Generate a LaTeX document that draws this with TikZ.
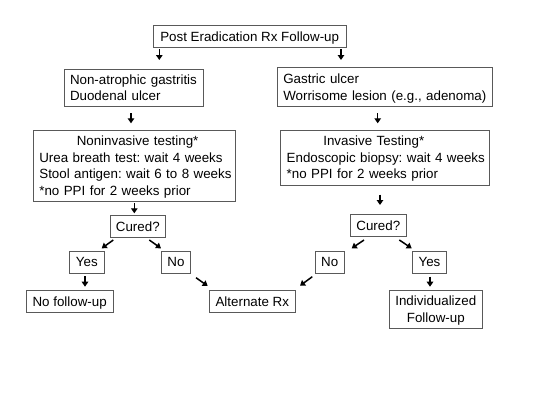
\documentclass[tikz,border=0pt]{standalone}
\usepackage{fontspec}
\setmainfont{Liberation Sans}
\usetikzlibrary{arrows.meta}
\newcommand\myTopStrut{\rule{0pt}{12.5pt}}
\newcommand\myBotStrut{\rule[-2.8pt]{0pt}{2.8pt}}
\begin{document}
\frenchspacing
\begin{tikzpicture}[x=1pt,y=-1pt,
  every node/.style={font=\fontsize{13.35}{16.45}\selectfont},
  bx/.style={draw=black!65,line width=0.8pt,rectangle,inner sep=0pt,align=center,text depth=0pt},
  lbx/.style={draw=black!65,line width=0.8pt,rectangle,inner ysep=0pt,inner xsep=#1,align=left},
  arr/.style={-{Triangle[length=5pt,width=6.5pt]},line width=1.5pt,black}]
\useasboundingbox (0,0) rectangle (540,405);
\fill[white] (0,0) rectangle (540,405);
\node[bx,minimum width=192.7,minimum height=22.3] (top) at (249.7,36.2) {Post Eradication Rx Follow-up};
\node[lbx=5.7pt,text width=127.6pt,minimum height=37.7] (nd) at (133.8,87.8) {\mbox{\myTopStrut Non-atrophic gastritis}\\\mbox{Duodenal ulcer\myBotStrut}};
\node[lbx=6pt,text width=203pt,minimum height=39] (gu) at (384.8,87.2) {\mbox{\myTopStrut Gastric ulcer}\\\mbox{Worrisome lesion (e.g., adenoma)\myBotStrut}};
\node[lbx=6pt,text width=189.7pt,minimum height=71] (ni) at (134.2,165.5) {\mbox{\myTopStrut\hspace*{37.4pt}Noninvasive testing*}\\\mbox{Urea breath test: wait 4 weeks}\\\mbox{Stool antigen: wait 6 to 8 weeks}\\\mbox{*no PPI for 2 weeks prior\myBotStrut}};
\node[lbx=6pt,text width=196.6pt,minimum height=55] (inv) at (385,157.5) {\mbox{\myTopStrut\hspace*{36.6pt}Invasive Testing*}\\\mbox{Endoscopic biopsy: wait 4 weeks}\\\mbox{*no PPI for 2 weeks prior\myBotStrut}};
\node[bx,minimum width=55.7,minimum height=22] (c1) at (137.8,226.7) {Cured?};
\node[bx,minimum width=56.7,minimum height=22.7] (c2) at (378.3,225.3) {Cured?};
\node[bx,minimum width=35,minimum height=22.3] (y1) at (86.8,262.2) {Yes};
\node[bx,minimum width=29.4,minimum height=22.3] (n1) at (176,262.2) {No};
\node[bx,minimum width=29.3,minimum height=22.3] (n2) at (329.7,262.2) {No};
\node[bx,minimum width=34.4,minimum height=22.3] (y2) at (429.5,262.2) {Yes};
\node[bx,minimum width=87.3,minimum height=22.3] (nof) at (69.7,301.2) {No follow-up};
\node[bx,minimum width=86.7,minimum height=22.3] (alt) at (252.3,301.2) {Alternate Rx};
\node[bx,minimum width=93,minimum height=38.3] (ind) at (435.8,309.2) {Individualized\\Follow-up};
% arrow end points
\coordinate (a1s) at (159.3,49); \coordinate (a1e) at (159.3,60);
\coordinate (a2s) at (341,49); \coordinate (a2e) at (341,60);
\coordinate (a3s) at (131,113); \coordinate (a3e) at (131,123.3);
\coordinate (a4s) at (377.7,113); \coordinate (a4e) at (377.7,123.3);
\coordinate (a5s) at (134.3,203.3); \coordinate (a5e) at (134.3,213.3);
\coordinate (a6s) at (380,194.5); \coordinate (a6e) at (380,205);
\coordinate (d1s) at (113.3,240); \coordinate (d1e) at (101.7,248.3);
\coordinate (d2s) at (149.3,240); \coordinate (d2e) at (161,248.3);
\coordinate (d3s) at (364,240); \coordinate (d3e) at (351.7,248.3);
\coordinate (d4s) at (399.3,240); \coordinate (d4e) at (411.7,248.3);
\coordinate (a7s) at (85,276); \coordinate (a7e) at (85,286.7);
\coordinate (a8s) at (430,276.7); \coordinate (a8e) at (430,286.7);
\coordinate (d5s) at (196,277.7); \coordinate (d5e) at (207.7,286);
\coordinate (d6s) at (312.3,276.7); \coordinate (d6e) at (300,285.7);
\foreach \a in {a1,a2,a3,a4,a5,a6,d1,d2,d3,d4,a7,a8,d5,d6}
  \draw[arr] (\a s) -- (\a e);
\end{tikzpicture}
\end{document}
